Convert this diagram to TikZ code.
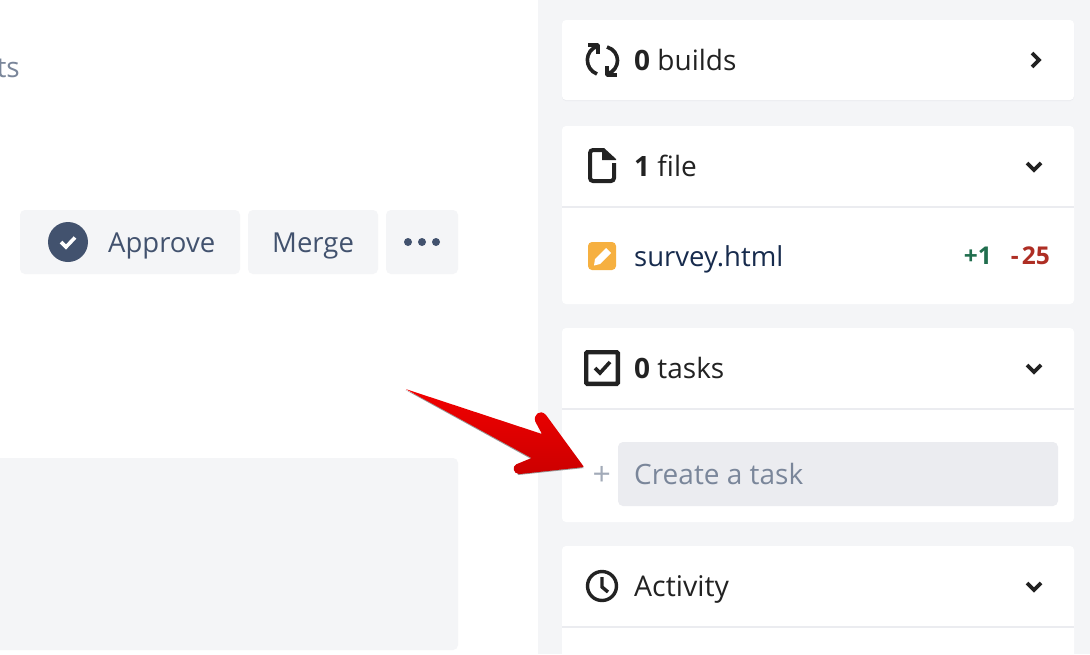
\documentclass[tikz,border=0pt]{standalone}
\usepackage{fontspec}
\setmainfont{Open Sans}
\usepackage{xcolor}
\usetikzlibrary{positioning}
\definecolor{sidebg}{HTML}{F4F5F7}
\definecolor{cardedge}{HTML}{EBECF0}
\definecolor{slate}{HTML}{42526E}
\definecolor{navy}{HTML}{172B4D}
\definecolor{ink}{HTML}{222222}
\definecolor{muted}{HTML}{7A869A}
\definecolor{addgreen}{HTML}{216E4E}
\definecolor{delred}{HTML}{AE2E24}
\definecolor{pencilbg}{HTML}{F6B040}
\tikzstyle{card} = [fill=white,rounded corners=4pt]
\tikzstyle{cardshade} = [fill=cardedge,rounded corners=4pt]
\tikzstyle{rule} = [cardedge,line width=2pt]
\tikzstyle{button} = [fill=sidebg,rounded corners=5pt]
\tikzstyle{label} = [anchor=base west,inner sep=0pt,font=\fontsize{28}{32}\selectfont]
\tikzstyle{icon} = [ink,line width=3.6pt,line join=round]
\tikzstyle{chevron} = [ink,line width=3.6pt,line join=miter]

\begin{document}
\begin{tikzpicture}[x=1pt,y=-1pt]
\useasboundingbox (0,0) rectangle (1090,654);
\fill[white] (0,0) rectangle (1090,654);
\fill[sidebg] (538,0) rectangle (1090,654);
% left side
\node[label,anchor=base east,muted] (frag) at (20,77) {ts};
\fill[button] (20,210) rectangle (240,274);
\fill[button] (248,210) rectangle (378,274);
\fill[button] (386,210) rectangle (458,274);
\fill[button] (-10,458) rectangle (458,650);
\fill[slate] (68,242) circle (20);
\draw[white,line width=3.6pt] (61,242) -- (66,247) -- (75,237.5);
\node[label,slate,font=\fontsize{27.5}{32}\selectfont] (approve) at (108,252) {Approve};
\node[label,slate,font=\fontsize{27.5}{32}\selectfont] (merge) at (272,252) {Merge};
\fill[slate] (408,242) circle (4);
\fill[slate] (422,242) circle (4);
\fill[slate] (436,242) circle (4);
% builds
\fill[cardshade] (562,21) rectangle (1074,101);
\fill[card] (562,20) rectangle (1074,100);
\draw[icon] (598,46) .. controls (584,50) and (584,69) .. (597,74);
\draw[icon] (588,45) -- (598,45) -- (598,54);
\draw[icon] (607,47) .. controls (621,51) and (621,70) .. (607,74);
\draw[icon] (607,66) -- (607,75) -- (617,75);
\node[label,ink] (builds) at (634,70) {\textbf{0} builds};
\draw[chevron] (1032,53) -- (1039,60) -- (1032,67);
% file
\fill[card] (562,126) rectangle (1074,304);
\draw[rule] (562,207) -- (1074,207);
\draw[ink,line width=4pt,rounded corners=3pt] (603,150) -- (590,150) -- (590,181) -- (614,181) -- (614,163);
\fill[ink] (602,148) -- (604,148) -- (616,159) -- (616,160) -- (602,160) -- cycle;
\node[label,ink] (file) at (634,176) {\textbf{1} file};
\draw[chevron] (1027,163) -- (1034,170) -- (1041,163);
\fill[pencilbg,rounded corners=4pt] (588,242) rectangle (616,270);
\fill[white] (595,259) -- (606,248) -- (611,253) -- (600,264) -- (594,265.5) -- cycle;
\node[label,navy,font=\fontsize{27.5}{32}\selectfont] (survey) at (634,266) {survey.html};
\node[label,anchor=base east,font=\fontsize{24.5}{28}\selectfont\bfseries,addgreen] (plus) at (992,264) {+1};
\node[label,anchor=base east,font=\fontsize{24.5}{28}\selectfont\bfseries,delred] (minus) at (1050,264) {-\kern3pt 25};
% tasks
\fill[card] (562,328) rectangle (1074,522);
\draw[rule] (562,409) -- (1074,409);
\draw[ink,line width=4.4pt,rounded corners=1pt] (586.2,352.2) rectangle (617.8,383.8);
\draw[ink,line width=3.6pt] (595,368) -- (600,373) -- (610,362);
\node[label,ink] (tasks) at (634,378) {\textbf{0} tasks};
\draw[chevron] (1027,365) -- (1034,372) -- (1041,365);
\node[label,font=\fontsize{32}{36}\selectfont,color=muted!70] (add) at (592.5,485) {+};
\fill[cardedge,rounded corners=5pt] (618,442) rectangle (1058,506);
\node[label,muted] (create) at (634,484) {Create a task};
% activity
\fill[card] (562,546) rectangle (1074,664);
\draw[rule] (562,627) -- (1074,627);
\draw[ink,line width=3.4pt] (602,586) circle (14.5);
\draw[ink,line width=3.4pt] (602,577) -- (602,587) -- (608,592);
\node[label,ink,font=\fontsize{28.5}{32}\selectfont] (activity) at (634,596) {Activity};
\draw[chevron] (1027,583) -- (1034,590) -- (1041,583);
% pointer
\coordinate (tail) at (405.5,389);
\coordinate (tip) at (584,467);
\fill[gray!80] (tail) ++(0,1) -- (532,459.5) -- (516,468) -- (518,475) -- (584,468) -- cycle;
\shade[top color=red!95!black,bottom color=red!80!black,draw=none,rounded corners=0.8pt]
  (tail) -- (542,434) -- (535.5,422) .. controls (533,415) and (540,409) .. (546,415) -- (tip)
  -- (520,474) .. controls (513,474) and (512,466) .. (517,464) -- (531.5,458) -- cycle;
\end{tikzpicture}
\end{document}
